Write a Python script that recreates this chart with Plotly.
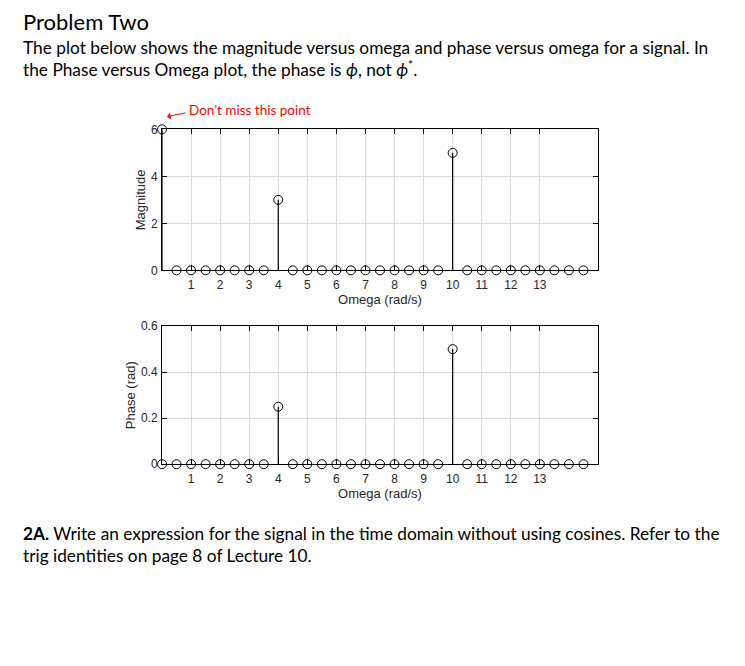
import plotly.graph_objects as go

omega = [0, 0.5, 1, 1.5, 2, 2.5, 3, 3.5, 4, 4.5, 5, 5.5, 6, 6.5, 7, 7.5,
         8, 8.5, 9, 9.5, 10, 10.5, 11, 11.5, 12, 12.5, 13, 13.5, 14, 14.5]
magnitude = [6, 0, 0, 0, 0, 0, 0, 0, 3, 0, 0, 0, 0, 0, 0, 0,
             0, 0, 0, 0, 5, 0, 0, 0, 0, 0, 0, 0, 0, 0]
phase = [0, 0, 0, 0, 0, 0, 0, 0, 0.25, 0, 0, 0, 0, 0, 0, 0,
         0, 0, 0, 0, 0.5, 0, 0, 0, 0, 0, 0, 0, 0, 0]
x_ticks = [1, 2, 3, 4, 5, 6, 7, 8, 9, 10, 11, 12, 13]
mag_ticks = [0, 2, 4, 6]
phase_ticks = [0, 0.2, 0.4, 0.6]

W, H = 745, 666
def px(x): return x / W
def py(y): return 1 - y / H

fig = go.Figure()

def stems(xs, ys, xa, ya):
    sx, sy = [], []
    for x, y in zip(xs, ys):
        if y != 0:
            sx += [x, x, None]
            sy += [0, y, None]
    fig.add_trace(go.Scatter(x=sx, y=sy, mode="lines", xaxis=xa, yaxis=ya,
                             line=dict(color="black", width=1.2),
                             showlegend=False, hoverinfo="skip", cliponaxis=False))
    fig.add_trace(go.Scatter(x=xs, y=ys, mode="markers", xaxis=xa, yaxis=ya,
                             marker=dict(symbol="circle-open", size=9, color="black",
                                         line=dict(width=1)),
                             showlegend=False, cliponaxis=False))

stems(omega, magnitude, "x", "y")
stems(omega, phase, "x2", "y2")

AX_FONT = "Liberation Sans, Arial"
tickfont = dict(family=AX_FONT, size=12, color="#262626")
titlefont = dict(family=AX_FONT, size=13, color="#262626")
xcommon = dict(range=[0, 15], tickvals=x_ticks, showgrid=True, gridcolor="#dadada",
               gridwidth=1, zeroline=False, showline=True, linecolor="black",
               linewidth=1, mirror="allticks", ticks="inside", ticklen=5,
               tickcolor="black", tickfont=tickfont, ticklabelstandoff=3,
               domain=[px(162), px(598)])
ycommon = dict(showgrid=True, gridcolor="#dadada", gridwidth=1, zeroline=False,
               showline=True, linecolor="black", linewidth=1, mirror="allticks",
               ticks="inside", ticklen=5, tickcolor="black", tickfont=tickfont,
               ticklabelstandoff=1)

fig.update_layout(
    width=W, height=H, margin=dict(l=0, r=0, t=0, b=0),
    paper_bgcolor="white", plot_bgcolor="white",
    xaxis=dict(**xcommon, anchor="y",
               title=dict(text="Omega (rad/s)", font=titlefont, standoff=4)),
    yaxis=dict(**ycommon, range=[0, 6], tickvals=mag_ticks, anchor="x",
               domain=[py(269), py(125)],
               title=dict(text="Magnitude", font=titlefont, standoff=2)),
    xaxis2=dict(**xcommon, anchor="y2",
                title=dict(text="Omega (rad/s)", font=titlefont, standoff=4)),
    yaxis2=dict(**ycommon, range=[0, 0.6], tickvals=phase_ticks, ticktext=["0", "0.2", "0.4", "0.6"],
                anchor="x2", domain=[py(467), py(326)],
                title=dict(text="Phase (rad)", font=titlefont, standoff=2)),
)

TXT = "Lato, Open Sans"
body = dict(family=TXT, size=17.3, color="black")
annos = [
    dict(text="Problem Two", x=px(21), y=py(30.5), font=dict(family=TXT, size=22, color="black")),
    dict(text="The plot below shows the magnitude versus omega and phase versus omega for a signal. In",
         x=px(21), y=py(54.5), font=body),
    dict(text="the Phase versus Omega plot, the phase is <i>ϕ</i>, not <i>ϕ</i><sup>*</sup>.",
         x=px(21), y=py(77), font=body),
    dict(text="<b>2A.</b> Write an expression for the signal in the time domain without using cosines. Refer to the",
         x=px(21), y=py(551), font=body),
    dict(text="trig identities on page 8 of Lecture 10.", x=px(21), y=py(573.5), font=body),
    dict(text="Don’t miss this point", x=px(187), y=py(115.5),
         font=dict(family=TXT, size=13.5, color="red")),
]
for a in annos:
    fig.add_annotation(xref="paper", yref="paper", xanchor="left", yanchor="bottom",
                       showarrow=False, **a)

fig.add_annotation(xref="paper", yref="paper", x=px(167), y=py(112),
                   ax=20, ay=-4, axref="pixel", ayref="pixel",
                   text="", showarrow=True, arrowhead=1, arrowsize=1.2, arrowwidth=1,
                   arrowcolor="red")

fig.write_html("out.html")
